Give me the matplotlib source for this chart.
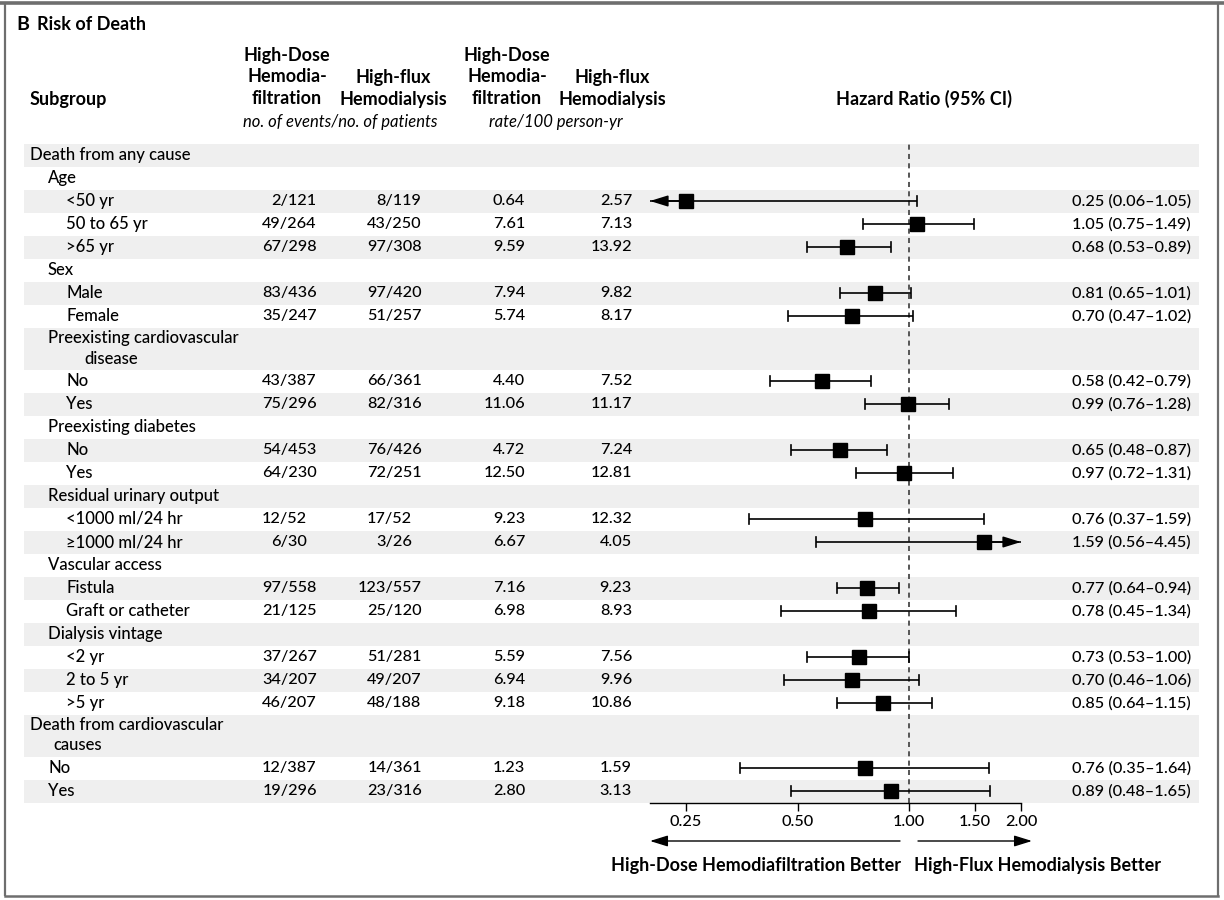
import matplotlib
matplotlib.use("Agg")
import matplotlib.pyplot as plt
import numpy as np

plt.rcParams['font.family'] = ['Lato', 'DejaVu Sans']

# ---------------- data ----------------
subgroups = ["Death from any cause", "Age", "<50 yr", "50 to 65 yr", ">65 yr",
             "Sex", "Male", "Female",
             "Preexisting cardiovascular\ndisease", "No", "Yes",
             "Preexisting diabetes", "No", "Yes",
             "Residual urinary output", "<1000 ml/24 hr", "\u22651000 ml/24 hr",
             "Vascular access", "Fistula", "Graft or catheter",
             "Dialysis vintage", "<2 yr", "2 to 5 yr", ">5 yr",
             "Death from cardiovascular\ncauses", "No", "Yes"]
levels = [0, 1, 2, 2, 2, 1, 2, 2, 1, 2, 2, 1, 2, 2, 1, 2, 2, 1, 2, 2, 1, 2, 2, 2, 0, 1, 1]

hdf_events = [None, None, "2/121", "49/264", "67/298", None, "83/436", "35/247",
              None, "43/387", "75/296", None, "54/453", "64/230", None, "12/52", "6/30",
              None, "97/558", "21/125", None, "37/267", "34/207", "46/207",
              None, "12/387", "19/296"]
hfd_events = [None, None, "8/119", "43/250", "97/308", None, "97/420", "51/257",
              None, "66/361", "82/316", None, "76/426", "72/251", None, "17/52", "3/26",
              None, "123/557", "25/120", None, "51/281", "49/207", "48/188",
              None, "14/361", "23/316"]
hdf_rate = [None, None, "0.64", "7.61", "9.59", None, "7.94", "5.74",
            None, "4.40", "11.06", None, "4.72", "12.50", None, "9.23", "6.67",
            None, "7.16", "6.98", None, "5.59", "6.94", "9.18",
            None, "1.23", "2.80"]
hfd_rate = [None, None, "2.57", "7.13", "13.92", None, "9.82", "8.17",
            None, "7.52", "11.17", None, "7.24", "12.81", None, "12.32", "4.05",
            None, "9.23", "8.93", None, "7.56", "9.96", "10.86",
            None, "1.59", "3.13"]
nan = np.nan
hr = [nan, nan, 0.25, 1.05, 0.68, nan, 0.81, 0.70, nan, 0.58, 0.99, nan, 0.65, 0.97,
      nan, 0.76, 1.59, nan, 0.77, 0.78, nan, 0.73, 0.70, 0.85, nan, 0.76, 0.89]
ci_lo = [nan, nan, 0.06, 0.75, 0.53, nan, 0.65, 0.47, nan, 0.42, 0.76, nan, 0.48, 0.72,
         nan, 0.37, 0.56, nan, 0.64, 0.45, nan, 0.53, 0.46, 0.64, nan, 0.35, 0.48]
ci_hi = [nan, nan, 1.05, 1.49, 0.89, nan, 1.01, 1.02, nan, 0.79, 1.28, nan, 0.87, 1.31,
         nan, 1.59, 4.45, nan, 0.94, 1.34, nan, 1.00, 1.06, 1.15, nan, 1.64, 1.65]

xticks = [0.25, 0.50, 1.00, 1.50, 2.00]
xtick_labels = ["0.25", "0.50", "1.00", "1.50", "2.00"]
x_min, x_max = 0.2, 2.0

# ---------------- layout ----------------
W, H = 1224, 900
FS_W = 12.0     # words
FS_N = 11.7     # numbers
FS_B = 13.0     # bold headers
FS_I = 12.0     # italic units
WT = 'medium'
TXT = '#000000'
SHADE = '#efefef'
fig = plt.figure(figsize=(W / 100, H / 100), dpi=100)
bg = fig.add_axes([0, 0, 1, 1])
bg.set_xlim(0, W)
bg.set_ylim(H, 0)
bg.axis('off')
renderer = fig.canvas.get_renderer()

row_h, two_h = 23.0, 42.0
top0 = 143.5
tops, hts = [], []
cur = top0
for lab in subgroups:
    h = two_h if '\n' in lab else row_h
    tops.append(cur)
    hts.append(h)
    cur += h
bottom = cur
centers = [t + h / 2 for t, h in zip(tops, hts)]

shade_x0, shade_x1 = 24, 1199
indent = {0: 30, 1: 48, 2: 66}
wrap_indent = {0: 53, 1: 84}

for i, lab in enumerate(subgroups):
    if i % 2 == 0:
        bg.add_patch(plt.Rectangle((shade_x0, tops[i]), shade_x1 - shade_x0, hts[i],
                                   facecolor=SHADE, edgecolor='none', zorder=0))
    x = indent[levels[i]]
    if '\n' in lab:
        l1, l2 = lab.split('\n')
        bg.text(x, tops[i] + 10.5, l1, fontsize=FS_W, fontweight=WT, va='center',
                ha='left', color=TXT)
        bg.text(wrap_indent[levels[i]], tops[i] + 31, l2, fontsize=FS_W, fontweight=WT,
                va='center', ha='left', color=TXT)
    else:
        bg.text(x, centers[i], lab, fontsize=FS_W, fontweight=WT, va='center', ha='left',
                color=TXT)

# event counts aligned on the slash
slash_x = [281, 386]
for col, evs in enumerate([hdf_events, hfd_events]):
    for i, ev in enumerate(evs):
        if ev is None:
            continue
        num = ev.split('/')[0]
        t = bg.text(0, centers[i], num, fontsize=FS_N, fontweight=WT, va='center', ha='left')
        w = t.get_window_extent(renderer).width
        t.remove()
        bg.text(slash_x[col] - w, centers[i], ev, fontsize=FS_N, fontweight=WT,
                va='center', ha='left', color=TXT)

rate_x = [525, 632]
for col, rates in enumerate([hdf_rate, hfd_rate]):
    for i, r in enumerate(rates):
        if r is None:
            continue
        bg.text(rate_x[col], centers[i], r, fontsize=FS_N, fontweight=WT, va='center',
                ha='right', color=TXT)

for i in range(len(subgroups)):
    if np.isnan(hr[i]):
        continue
    s = f"{hr[i]:.2f} ({ci_lo[i]:.2f}\u2013{ci_hi[i]:.2f})"
    bg.text(1191, centers[i], s, fontsize=FS_N, fontweight=WT, va='center', ha='right',
            color=TXT)

# headers
bg.text(16, 25, "B", fontsize=14, fontweight='bold', va='center', ha='left', color=TXT)
bg.text(37, 25, "Risk of Death", fontsize=FS_B, fontweight='bold', va='center', ha='left',
        color=TXT)
bg.text(30, 99, "Subgroup", fontsize=FS_B, fontweight='bold', va='center', ha='left', color=TXT)
for cx, lines in [(287, ["High-Dose", "Hemodia-", "filtration"]),
                  (393, ["High-flux", "Hemodialysis"]),
                  (507, ["High-Dose", "Hemodia-", "filtration"]),
                  (612, ["High-flux", "Hemodialysis"])]:
    ys = [55, 77, 99][-len(lines):]
    for yy, ln in zip(ys, lines):
        bg.text(cx, yy, ln, fontsize=FS_B, fontweight='bold', va='center', ha='center',
                color=TXT)
bg.text(340, 122, "no. of events/no. of patients", fontsize=FS_I, style='italic',
        va='center', ha='center', color=TXT)
bg.text(556, 122, "rate/100 person-yr", fontsize=FS_I, style='italic',
        va='center', ha='center', color=TXT)
bg.text(924, 99, "Hazard Ratio (95% CI)", fontsize=FS_B, fontweight='bold',
        va='center', ha='center', color=TXT)

# frame
fc = '#6e6e6e'
bg.plot([5, 5], [3, 896], color=fc, lw=1.6, solid_capstyle='butt')
bg.plot([1218, 1218], [3, 896], color=fc, lw=1.6, solid_capstyle='butt')
bg.plot([5, 1218], [895.5, 895.5], color=fc, lw=1.8)
bg.plot([0, 1224], [3, 3], color=fc, lw=2.6)

# bottom direction arrows and labels
arrow_style = '-|>,head_length=0.9,head_width=0.28'
bg.annotate("", xy=(650, 841), xytext=(900, 841),
            arrowprops=dict(arrowstyle=arrow_style, mutation_scale=12,
                            lw=1.0, color=TXT, shrinkA=0, shrinkB=0))
bg.annotate("", xy=(1032, 841), xytext=(918, 841),
            arrowprops=dict(arrowstyle=arrow_style, mutation_scale=12,
                            lw=1.0, color=TXT, shrinkA=0, shrinkB=0))
bg.text(901, 866, "High-Dose Hemodiafiltration Better", fontsize=FS_B, fontweight='bold',
        va='center', ha='right', color=TXT)
bg.text(914, 866, "High-Flux Hemodialysis Better", fontsize=FS_B, fontweight='bold',
        va='center', ha='left', color=TXT)

# ---------------- forest axes ----------------
ax_l, ax_r = 650, 1021
ax = fig.add_axes([ax_l / W, 1 - bottom / H, (ax_r - ax_l) / W, (bottom - top0) / H])
ax.set_facecolor('none')
ax.set_xscale('log')
ax.set_xlim(x_min, x_max)
ax.set_ylim(bottom, top0)
for sp in ['top', 'left', 'right']:
    ax.spines[sp].set_visible(False)
ax.spines['bottom'].set_linewidth(1.0)
ax.spines['bottom'].set_color(TXT)
ax.set_yticks([])
ax.set_xticks(xticks)
ax.set_xticklabels(xtick_labels, fontweight=WT)
ax.minorticks_off()
ax.tick_params(axis='x', direction='out', length=5.5, width=1.0, pad=3.5,
               labelsize=FS_N, colors=TXT)

ax.axvline(1.0, color='#555555', lw=1.4, ls=(0, (2.6, 2.2)), zorder=1)

cap = 5.0
for i in range(len(subgroups)):
    if np.isnan(hr[i]):
        continue
    y = centers[i]
    lo, hi = ci_lo[i], ci_hi[i]
    lo_c, hi_c = max(lo, x_min), min(hi, x_max)
    ax.plot([lo_c, hi_c], [y, y], color='black', lw=1.2, zorder=2, solid_capstyle='butt')
    if lo < x_min:
        ax.annotate("", xy=(x_min, y), xytext=(hr[i], y),
                    arrowprops=dict(arrowstyle=arrow_style, mutation_scale=12, lw=1.2,
                                    color='black', shrinkA=0, shrinkB=0), zorder=2)
    else:
        ax.plot([lo, lo], [y - cap, y + cap], color='black', lw=1.2, zorder=2)
    if hi > x_max:
        ax.annotate("", xy=(x_max, y), xytext=(hr[i], y),
                    arrowprops=dict(arrowstyle=arrow_style, mutation_scale=12, lw=1.2,
                                    color='black', shrinkA=0, shrinkB=0), zorder=2)
    else:
        ax.plot([hi, hi], [y - cap, y + cap], color='black', lw=1.2, zorder=2)
    ax.plot([hr[i]], [y], marker='s', markersize=10, color='black', zorder=3)

fig.savefig("out.png", dpi=100)
